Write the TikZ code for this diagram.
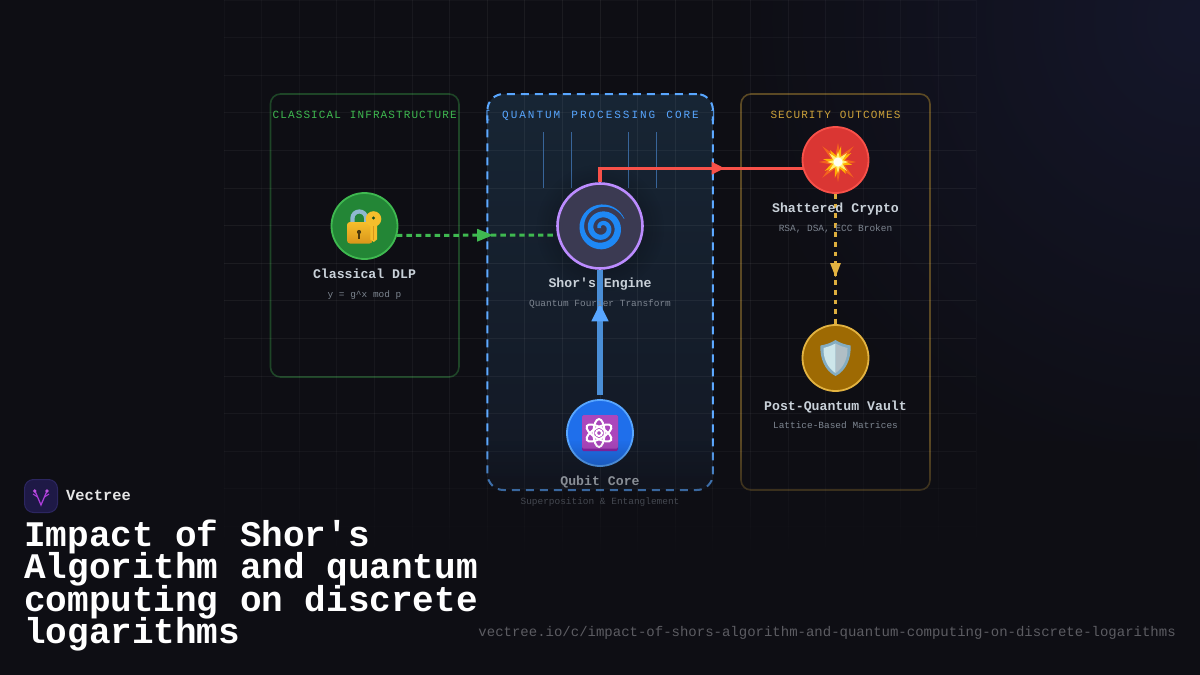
\documentclass[tikz,border=0pt]{standalone}
\usepackage{fontspec}
\newfontfamily\mf{Liberation Mono}
\newfontfamily\capsA[LetterSpace=10,WordSpace=1.167]{Liberation Mono}
\newfontfamily\capsB[LetterSpace=18,WordSpace=1.3]{Liberation Mono}
\usetikzlibrary{decorations.markings,arrows.meta,fadings}
\definecolor{bgc}{HTML}{0E0E14}
\definecolor{glowc}{HTML}{15172B}
\definecolor{cgreen}{HTML}{3FB950}
\definecolor{cblue}{HTML}{58A6FF}
\definecolor{camber}{HTML}{E3B341}
\definecolor{linkamber}{HTML}{DDAE3E}
\definecolor{cred}{HTML}{F85149}
\definecolor{cpurple}{HTML}{BC8CFF}
\definecolor{nametxt}{HTML}{C9D1D9}
\definecolor{subtxt}{HTML}{7D8590}
\definecolor{qtop}{HTML}{172534}
\definecolor{qbot}{HTML}{131824}
\definecolor{lgold}{HTML}{F6BE2C}
\definecolor{lgoldb}{HTML}{D9961A}
\definecolor{fgreen}{HTML}{238636}
\definecolor{fshor}{HTML}{3B3A52}
\definecolor{fblue}{HTML}{1F6FEB}
\definecolor{fred}{HTML}{DA3633}
\definecolor{famber}{HTML}{9E6A03}
\definecolor{linkblue}{HTML}{4A8ED6}
\definecolor{shackle}{HTML}{8FB8CF}
\definecolor{swirl}{HTML}{1E88F5}
\definecolor{atomdark}{HTML}{8822A4}
\definecolor{atomlight}{HTML}{AB47BC}
\definecolor{boomA}{HTML}{F4641E}
\definecolor{boomB}{HTML}{FFB300}
\definecolor{boomC}{HTML}{FFF176}
\definecolor{shA}{HTML}{84ACC0}
\definecolor{shB}{HTML}{CDE6EA}
\definecolor{shC}{HTML}{B0BEC5}
\definecolor{logoline}{HTML}{2C2660}
\definecolor{logofill}{HTML}{1E1946}
\definecolor{logomark}{HTML}{AA3CD7}
\definecolor{logodot}{HTML}{BE50E1}
\definecolor{urltext}{HTML}{5C5C62}
\tikzfading[name=fadeGlow, inner color=transparent!0, outer color=transparent!100]
\tikzfading[name=fadeDown, top color=transparent!100, bottom color=transparent!0]
\pgfdeclarelayer{backlayer}
\pgfdeclarelayer{linklayer}
\pgfsetlayers{backlayer,linklayer,main}
\tikzset{
  x=1pt,y=-1pt,
  panel/.style={rounded corners=10pt,line width=1.6pt,inner sep=0pt},
  gridline/.style={white,line width=.8pt},
  orb/.style={circle,minimum size=#1,inner sep=0pt},
  headtext/.style={anchor=base,inner sep=0pt},
  nametext/.style={anchor=base,font=\mf\bfseries\fontsize{13.2}{16}\selectfont,text=nametxt,inner sep=0pt},
  subtext/.style={anchor=base,font=\mf\fontsize{9.45}{12}\selectfont,text=subtxt,inner sep=0pt},
  midtip/.style n args={4}{postaction={decorate},decoration={markings,mark=at position #1 with {\arrow[#4]{Triangle[length=#2,width=#3]}}}},
  declare function={swr(\u)=24-21.5*\u; sww(\u)=0.5+7.5*min(1,\u*3.5)*(1-0.55*\u); swa(\u)=22+880*\u;},
}
\begin{document}
\begin{tikzpicture}
\useasboundingbox (0,0) rectangle (1200,675);
\begin{pgfonlayer}{backlayer}
\fill[bgc] (0,0) rectangle (1200,675);
\begin{scope}
\clip (0,0) rectangle (1200,675);
\fill[glowc,path fading=fadeGlow] (1200,20) circle[radius=480];
\end{scope}
% panels
\node[panel,draw=cgreen!32!bgc,fill=bgc,minimum width=188.5pt,minimum height=283pt] (pa) at (364.7,235.5) {};
\node[panel,rounded corners=16pt,draw=cblue,dash pattern=on 8pt off 6pt,line width=2pt,top color=qtop,bottom color=qbot,minimum width=225.5pt,minimum height=396pt] (pb) at (600.2,292) {};
\node[panel,draw=camber!36!bgc,minimum width=189pt,minimum height=396pt] (pc) at (835.5,292) {};
% grid, fainter towards its edges
\foreach \i in {0,...,20} \draw[gridline,opacity={.06-.035*abs(\i-10)/10}] ({224+37.6*\i},0) -- ({224+37.6*\i},564);
\foreach \j in {0,...,15} \draw[gridline,opacity={.06-.035*abs(\j-7)/8}] (224,{37.6*\j}) -- (976,{37.6*\j});
% vertical marks in the core
\foreach \x in {543.5,571.5,628.5,656.5} \draw[cblue!50!qtop,line width=.8pt] (\x,132) -- (\x,188);
\fill[black,opacity=.5,path fading=fadeGlow] (600,228) circle[radius=64];
\end{pgfonlayer}
% orbs
\node[orb=66pt,draw=cgreen,fill=fgreen,line width=1.8pt] (dlp) at (364.5,226) {};
\node[orb=85pt,draw=cpurple,fill=fshor,line width=2.6pt] (shor) at (600,226) {};
\node[orb=66pt,draw=cblue,fill=fblue,line width=1.8pt] (qubit) at (600,433) {};
\node[orb=66pt,draw=cred,fill=fred,line width=1.8pt] (crash) at (835.5,160) {};
\node[orb=66pt,draw=camber,fill=famber,line width=1.8pt] (vault) at (835.5,358) {};
% connectors behind the orbs
\begin{pgfonlayer}{linklayer}
\draw[cgreen,line width=3pt,dash pattern=on 5.4pt off 4pt,midtip={.6}{16pt}{12pt}{cgreen}] (dlp.-16.7) -- (shor.192.9);
\draw[linkblue,line width=6pt,shorten <=4pt,midtip={.74}{18pt}{16pt}{cblue}] (qubit.north) -- (shor.south);
\draw[cred,line width=3.4pt,midtip={.64}{13pt}{12pt}{cred}] (shor.north) |- (crash.194.5);
\draw[draw=linkamber,line width=2.2pt,dash pattern=on 4.8pt off 4.8pt,midtip={.64}{14pt}{10pt}{camber}] (crash.south) -- (vault.north);
\end{pgfonlayer}
% headings
\node[headtext,font=\capsA\fontsize{11}{13}\selectfont,text=cgreen] (ha) at (364.7,118.3) {CLASSICAL INFRASTRUCTURE};
\node[headtext,font=\capsB\fontsize{11}{13}\selectfont,text=cblue] (hb) at (600.5,118.3) {[ QUANTUM PROCESSING CORE ]};
\node[headtext,font=\capsA\fontsize{11}{13}\selectfont,text=camber!90!black] (hc) at (835.5,118.3) {SECURITY OUTCOMES};
% labels
\node[nametext] (t1) at (364.5,278.3) {Classical DLP};
\node[subtext] (s1) at (364.5,297) {y = g\char`\^x mod p};
\node[nametext] (t2) at (600,287) {Shor's Engine};
\node[subtext] (s2) at (600,306) {Quantum Fourier Transform};
\node[nametext] (t3) at (600,485.7) {Qubit Core};
\node[subtext] (s3) at (600,504) {Superposition \& Entanglement};
\node[nametext] (t4) at (835.5,212.3) {Shattered Crypto};
\node[subtext] (s4) at (835.5,231.3) {RSA, DSA, ECC Broken};
\node[nametext] (t5) at (835.5,410.7) {Post-Quantum Vault};
\node[subtext] (s5) at (835.5,428.3) {Lattice-Based Matrices};
% lock and key emoji
\draw[shackle,line width=4.2pt] (352.5,226) -- (352.5,218) arc[start angle=180,end angle=360,x radius=6.8,y radius=6.5] -- (366.1,226);
\shade[top color=lgold,bottom color=lgoldb,rounded corners=3pt] (347,222) rectangle (372.5,243.5);
\fill[black!70!lgold] (359,232) circle[radius=2.1];
\fill[black!70!lgold] (358,232.5) rectangle (360,238.5);
\fill[lgold] (370.4,224) -- (377,224) -- (377,239.5) -- (373.8,242) -- (370.4,239.5) -- cycle;
\fill[lgold] (373.5,219) circle[radius=7.8];
\fill[black!45!fgreen] (373.5,218) circle[radius=1.7];
\draw[lgoldb,line width=.8pt] (373.8,226) -- (373.8,240);
% cyclone emoji
\fill[swirl] plot[domain=0:1,samples=90,variable=\u,smooth] ({602+(swr(\u)+sww(\u)/2)*cos(swa(\u))},{228-(swr(\u)+sww(\u)/2)*sin(swa(\u))}) -- plot[domain=1:0,samples=90,variable=\u,smooth] ({602+(swr(\u)-sww(\u)/2)*cos(swa(\u))},{228-(swr(\u)-sww(\u)/2)*sin(swa(\u))}) -- cycle;
% atom emoji
\fill[atomdark,rounded corners=1.5pt] (582,415) rectangle (618,451);
\fill[atomlight,rounded corners=1.5pt] (582,415) rectangle (618,448.5);
\begin{scope}[shift={(599,433)}]
\foreach \r in {90,30,150} \draw[white,line width=2pt,rotate=\r] (0,0) ellipse[x radius=14,y radius=5.6];
\draw[white,line width=2pt] (0,0) circle[radius=3];
\end{scope}
% collision emoji
\begin{scope}[shift={(838,162)}]
\fill[boomA] plot coordinates {(0:18) (22:7) (45:22) (68:7) (90:20) (112:7) (135:22) (158:7) (180:19) (202:7) (225:22) (248:7) (270:19) (292:7) (315:22) (338:7)} -- cycle;
\fill[boomB,scale=.85] plot coordinates {(11:17) (33:7) (56:17) (79:7) (101:19) (123:7) (146:19) (169:7) (191:18) (213:7) (236:17) (259:7) (281:19) (303:7) (326:19) (349:7)} -- cycle;
\fill[boomC,scale=.6] plot coordinates {(0:17) (22:8) (45:21) (68:8) (90:19) (112:8) (135:21) (158:8) (180:18) (202:8) (225:21) (248:8) (270:17) (292:8) (315:21) (338:8)} -- cycle;
\fill[white,opacity=.9] (0,0) circle[radius=4.6];
\end{scope}
% shield emoji
\fill[shA] (835.5,340) .. controls (840,343) and (845,344.5) .. (850.5,345.5) .. controls (851.5,358) and (846,371) .. (835.5,376) .. controls (825,371) and (819.5,358) .. (820.5,345.5) .. controls (826,344.5) and (831,343) .. (835.5,340) -- cycle;
\fill[shB] (835.5,343.5) .. controls (831,346) and (827,347) .. (823.5,348) .. controls (823,358) and (827.5,368) .. (835.5,373) -- cycle;
\fill[shC] (835.5,343.5) .. controls (840,346) and (844,347) .. (847.5,348) .. controls (848,358) and (843.5,368) .. (835.5,373) -- cycle;
% bottom fade
\fill[bgc,path fading=fadeDown] (0,440) rectangle (1200,560);
\fill[bgc] (0,559.5) rectangle (1200,675);
% logo
\node[rounded corners=9pt,draw=logoline,fill=logofill,line width=1pt,minimum size=33pt,inner sep=0pt] (logo) at (41,496) {};
\draw[logomark,line width=1.3pt] (35,491) -- (41,505) -- (47,491);
\draw[logomark,line width=1pt] (37.5,497) -- (33,494) (44.5,497) -- (49,494);
\fill[logodot] (34.8,491) circle[radius=1.9] (47,491) circle[radius=1.9];
\node[font=\mf\bfseries\fontsize{15.4}{18}\selectfont,text=white!90!black,anchor=base west,inner sep=0pt] (brand) at (66,500) {Vectree};
% title
\foreach \n/\y/\s in {a/546/Impact of Shor's,b/578.6/Algorithm and quantum,c/611.2/computing on discrete,d/643.8/logarithms}
  \node[font=\mf\bfseries\fontsize{36}{36}\selectfont,text=white,anchor=base west,inner sep=0pt] (title\n) at (24,\y) {\s};
% url
\node[font=\mf\fontsize{14}{16}\selectfont,text=urltext,anchor=base east,inner sep=0pt] (url) at (1176,636.5) {vectree.io/c/impact-of-shors-algorithm-and-quantum-computing-on-discrete-logarithms};
\end{tikzpicture}
\end{document}
